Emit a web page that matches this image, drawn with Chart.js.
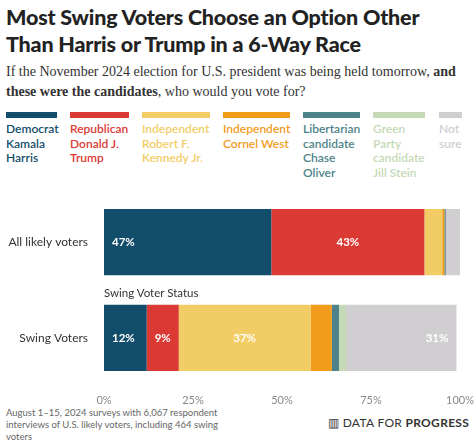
<!DOCTYPE html>
<html><head><meta charset="utf-8">
<script src="https://cdn.jsdelivr.net/npm/chart.js@4"></script>
<style>
body{margin:0;width:474px;height:446px;background:#fff;font-family:Lato,sans-serif;position:relative;overflow:hidden}
#t{position:absolute;left:6px;top:4px;font-size:21.5px;font-weight:900;line-height:27px;color:#222;letter-spacing:-0.2px}
#s{position:absolute;left:6px;top:62px;width:465px;font-family:"Liberation Serif",serif;font-size:14px;line-height:20px;color:#333}
#lg{position:absolute;left:6px;top:112px}
.it{position:absolute;top:0;font-size:12px;line-height:14.5px;font-weight:600;white-space:nowrap}
.it div.b{height:6px;margin-bottom:4px}
#c{position:absolute;left:0;top:179px;width:474px;height:228px}
#sv{position:absolute;left:104px;top:286px;font-size:11.5px;color:#333}
#f{position:absolute;left:6px;top:407px;font-size:9.5px;line-height:12px;color:#666;width:240px}
#logo{position:absolute;left:328px;top:415px;font-size:12px;color:#333;letter-spacing:0.3px;white-space:nowrap}
</style></head><body>
<div id="t">Most Swing Voters Choose an Option Other<br>Than Harris or Trump in a 6-Way Race</div>
<div id="s">If the November 2024 election for U.S. president was being held tomorrow, <b>and these were the candidates</b>, who would you vote for?</div>
<div id="lg"></div>
<div id="c"><canvas id="cv"></canvas></div>
<div id="sv">Swing Voter Status</div>
<div id="f">August 1–15, 2024 surveys with 6,067 respondent interviews of U.S. likely voters, including 464 swing voters</div>
<div id="logo">▥ DATA <span style="font-weight:400">FOR</span> <b>PROGRESS</b></div>
<script>
const categories=["All likely voters","Swing Voters"];
const seriesNames=["Democrat\nKamala\nHarris","Republican\nDonald J.\nTrump","Independent\nRobert F.\nKennedy Jr.","Independent\nCornel West","Libertarian\ncandidate\nChase\nOliver","Green\nParty\ncandidate\nJill Stein","Not\nsure"];
const colors=["#124e6b","#db3a34","#f2cd66","#f29c1b","#4d8388","#c5d9b6","#d1ced2"];
const harris=[47,12],trump=[43,9],rfk=[5,37],west=[0.6,6],oliver=[0.4,2],stein=[0,2],notSure=[4,31];
const values=[harris,trump,rfk,west,oliver,stein,notSure];
const xTicks=[0,25,50,75,100];
const lx=[0,64,136,217,297,367,433], lw=[51,59,68,67,57,52,23];
const lg=document.getElementById('lg');
seriesNames.forEach((n,i)=>{const d=document.createElement('div');d.className='it';d.style.left=lx[i]+'px';d.style.width=lw[i]+'px';d.style.color=colors[i];d.innerHTML='<div class="b" style="background:'+colors[i]+'"></div>'+n.split('\n').join('<br>');lg.appendChild(d);});
const labelPlugin={id:'lbl',afterDatasetsDraw(ch){const c=ch.ctx;c.save();c.font='bold 11.5px Lato';c.fillStyle='#fff';c.textBaseline='middle';
ch.data.datasets.forEach((ds,di)=>{ch.getDatasetMeta(di).data.forEach((b,j)=>{const v=ds.data[j];if(v<8)return;const t=v+'%';
if(di==0){c.textAlign='left';c.fillText(t,b.base+8,b.y);}else if(di==6){c.textAlign='right';c.fillText(t,b.x-8,b.y);}else{c.textAlign='center';c.fillText(t,(b.x+b.base)/2,b.y);}});});c.restore();}};
new Chart(document.getElementById('cv'),{type:'bar',
data:{labels:categories,datasets:values.map((v,i)=>({label:seriesNames[i],data:v,backgroundColor:colors[i],barPercentage:0.69,categoryPercentage:1}))},
options:{indexAxis:'y',responsive:true,maintainAspectRatio:false,animation:false,
layout:{padding:{top:0,right:10,left:0,bottom:0}},
plugins:{legend:{display:false},tooltip:{enabled:false}},
scales:{x:{stacked:true,min:0,max:100,grid:{display:false},border:{display:false},
ticks:{stepSize:25,padding:0,color:'#888',font:{size:11,family:'Lato'},callback:v=>xTicks.includes(v)?v+'%':''}},
y:{stacked:true,grid:{display:false},border:{display:false},afterFit:s=>{s.width=104},
ticks:{color:'#333',padding:8,font:{size:12,family:'Lato'}}}}},
plugins:[labelPlugin]});
</script></body></html>
